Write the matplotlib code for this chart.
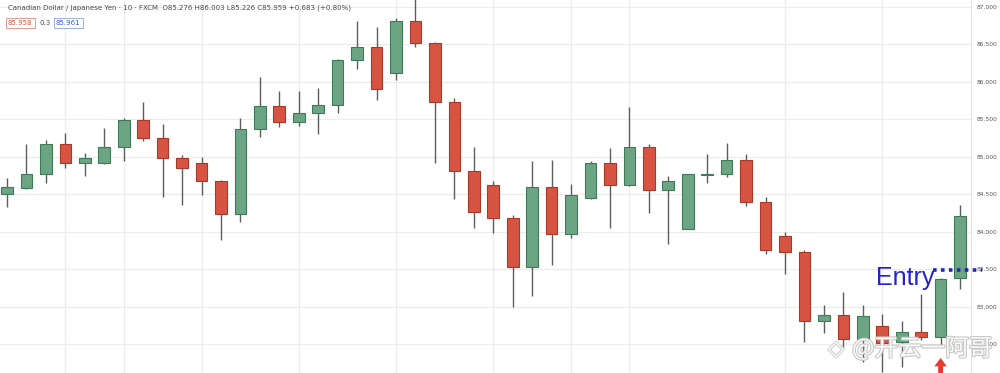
import matplotlib
matplotlib.use("Agg")
import matplotlib.pyplot as plt
import matplotlib.patheffects as pe
from matplotlib.patches import Rectangle

# ---- data (CAD/JPY 10-minute candles) ----
opens = [84.507, 84.587, 84.773, 85.173, 84.920, 84.920, 85.133, 85.493, 85.253, 84.987,
         84.920, 84.680, 84.240, 85.373, 85.680, 85.467, 85.587, 85.693, 86.293, 86.467,
         86.120, 86.813, 86.520, 85.733, 84.813, 84.627, 84.187, 83.533, 84.600, 83.973,
         84.453, 84.920, 84.627, 85.133, 84.560, 84.040, 84.760, 84.773, 84.960, 84.400,
         83.947, 83.733, 82.813, 82.893, 82.573, 82.747, 82.533, 82.667, 82.600, 83.387]
highs = [84.720, 85.173, 85.227, 85.320, 85.053, 85.387, 85.520, 85.733, 85.440, 85.027,
         85.000, 84.693, 85.520, 86.067, 85.880, 85.880, 85.920, 86.307, 86.813, 86.733,
         86.853, 87.120, 86.533, 85.787, 85.133, 84.680, 84.227, 84.947, 84.960, 84.640,
         84.947, 85.120, 85.667, 85.173, 84.747, 84.773, 85.040, 85.187, 85.040, 84.467,
         84.000, 83.760, 83.027, 83.200, 83.027, 82.907, 82.813, 83.173, 83.387, 84.360]
lows = [84.333, 84.573, 84.653, 84.853, 84.747, 84.907, 84.947, 85.213, 84.467, 84.360,
        84.493, 83.893, 84.133, 85.267, 85.400, 85.413, 85.307, 85.587, 86.173, 85.760,
        86.027, 86.467, 84.920, 84.440, 84.053, 83.987, 83.000, 83.147, 83.560, 83.920,
        84.440, 84.053, 84.613, 84.253, 83.840, 84.040, 84.653, 84.733, 84.347, 83.707,
        83.440, 82.533, 82.653, 82.467, 82.267, 82.133, 82.200, 82.560, 82.467, 83.240]
closes = [84.600, 84.773, 85.173, 84.920, 84.987, 85.133, 85.493, 85.253, 84.987, 84.853,
          84.680, 84.240, 85.373, 85.680, 85.467, 85.587, 85.693, 86.293, 86.467, 85.907,
          86.813, 86.520, 85.733, 84.813, 84.267, 84.187, 83.533, 84.600, 83.973, 84.493,
          84.920, 84.627, 85.133, 84.560, 84.680, 84.773, 84.773, 84.960, 84.400, 83.760,
          83.733, 82.813, 82.893, 82.573, 82.880, 82.520, 82.667, 82.600, 83.373, 84.213]

price_ticks = [82.5, 83.0, 83.5, 84.0, 84.5, 85.0, 85.5, 86.0, 86.5, 87.0]
time_grid_idx = [3, 6, 10, 15, 20, 25, 29, 32, 40, 45]

entry_price = 83.493
entry_label = "Entry"
signal_idx = 48

header = ("Canadian Dollar / Japanese Yen \u00b7 10 \u00b7 FXCM  O85.276 H86.003 "
          "L85.226 C85.959 +0.683 (+0.80%)")
bid_label, spread_label, ask_label = "85.958", "0.3", "85.961"
watermark = "@开云一阿哥"

# ---- style ----
UP = "#6ba583"
UP_EDGE = "#3f7a58"
DN = "#d75442"
DN_EDGE = "#a8382a"
WICK = "#5d5d5d"
GRID = "#ececec"

W, H = 1000, 373
fig = plt.figure(figsize=(W / 100, H / 100), dpi=100)
fig.patch.set_facecolor("white")
ax = fig.add_axes([0, 0, 971 / W, 1])
ax.set_facecolor("white")

n = len(opens)
xs = list(range(n))
body_w = 0.6

for i in xs:
    o, h, l, c = opens[i], highs[i], lows[i], closes[i]
    up = c >= o
    ax.vlines(i, l, h, color=WICK, lw=1.0, zorder=2)
    bottom = min(o, c)
    height = max(abs(c - o), 0.008)
    ax.add_patch(Rectangle((i - body_w / 2, bottom), body_w, height,
                           facecolor=UP if up else DN,
                           edgecolor=UP_EDGE if up else DN_EDGE,
                           lw=0.8, zorder=3))

# grid
for p in price_ticks:
    ax.axhline(p, color=GRID, lw=0.9, zorder=0)
for gi in time_grid_idx:
    ax.axvline(gi, color=GRID, lw=0.9, zorder=0)

px_per_bar = 19.45
x_left = -7 / px_per_bar
x_right = x_left + 971 / px_per_bar
ax.set_xlim(x_left, x_right)
y_top = 87.0933
y_bot = y_top - 373 / 75
ax.set_ylim(y_bot, y_top)

ax.set_xticks([])
ax.yaxis.tick_right()
ax.set_yticks(price_ticks)
ax.set_yticklabels([f"{p:.3f}" for p in price_ticks])
ax.tick_params(axis="y", length=0, pad=4, labelsize=4.3, labelcolor="#555555")
for s in ["top", "left", "bottom"]:
    ax.spines[s].set_visible(False)
ax.spines["right"].set_color("#e3e3e3")
ax.spines["right"].set_linewidth(0.8)

# Entry annotation
ax.text(44.68, 83.293, entry_label, color="#2323c8", fontsize=18,
        family="Liberation Sans", ha="left", va="baseline", zorder=6)
ax.plot([47.6, 50.15], [entry_price, entry_price], color="#2323c8", lw=2.6,
        linestyle=(0, (1, 1.2)), clip_on=False, zorder=6)

# signal arrow
ax.annotate("", xy=(signal_idx, 82.32), xytext=(signal_idx, y_bot - 0.02),
            arrowprops=dict(facecolor="#e8392f", edgecolor="none", width=3.5,
                            headwidth=9, headlength=6, shrink=0),
            annotation_clip=False, zorder=7)

# header
fig.text(8 / W, 1 - 8 / H, header, fontsize=5.0, color="#4a4a4a",
         ha="left", va="center")
fig.text(8 / W, 1 - 23 / H, bid_label, fontsize=5.0, color="#d75442",
         ha="left", va="center",
         bbox=dict(boxstyle="square,pad=0.35", fc="white", ec="#e08a80", lw=0.6))
fig.text(40 / W, 1 - 23 / H, spread_label, fontsize=5.0, color="#555555",
         ha="left", va="center")
fig.text(56 / W, 1 - 23 / H, ask_label, fontsize=5.0, color="#3a5fcd",
         ha="left", va="center",
         bbox=dict(boxstyle="square,pad=0.35", fc="white", ec="#8ea2e0", lw=0.6))

# watermark
fig.text(852 / W, 1 - 349 / H, watermark, fontsize=17, color="white",
         family=["Noto Sans CJK SC", "DejaVu Sans"], ha="left", va="center",
         alpha=0.9, zorder=10,
         path_effects=[pe.withStroke(linewidth=1.6, foreground="#c4c4c4")])
fig.text(836 / W, 1 - 349 / H, "\u25c8", fontsize=15, color="white",
         ha="center", va="center", zorder=10,
         path_effects=[pe.withStroke(linewidth=1.4, foreground="#cfcfcf")])

fig.savefig("out.png", dpi=100)
